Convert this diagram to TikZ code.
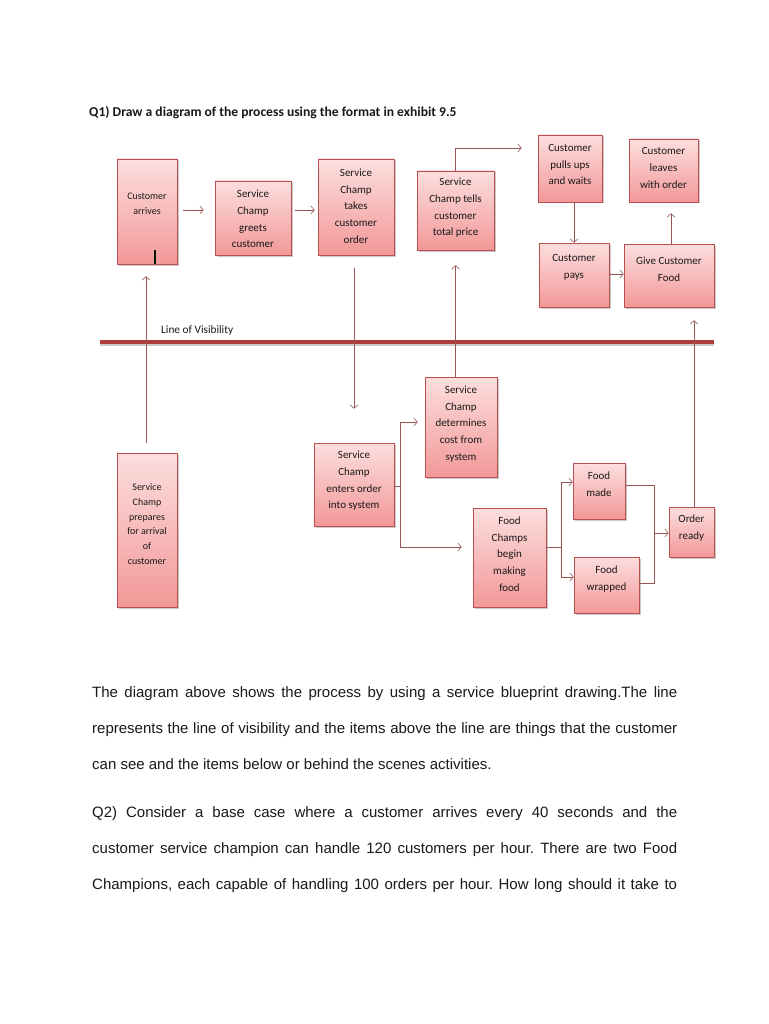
\documentclass[tikz,border=0pt]{standalone}
\usepackage{fontspec}
\setmainfont{Liberation Sans}
\newfontfamily\calfont{Carlito}
\usetikzlibrary{arrows.meta,shadows,calc}
\frenchspacing
\definecolor{boxtop}{RGB}{253,222,222}
\definecolor{boxbot}{RGB}{242,152,152}
\definecolor{boxline}{RGB}{185,80,78}
\definecolor{conncol}{RGB}{150,85,85}
\definecolor{lovcol}{RGB}{175,60,60}
\tikzset{
  pbox/.style={rectangle, draw=boxline, line width=0.6pt, top color=boxtop, bottom color=boxbot,
    drop shadow={shadow xshift=1.5pt, shadow yshift=-1.5pt, opacity=0.35, fill=black!60}, inner sep=1pt},
  bt/.style={align=center, inner sep=0pt, font=\calfont\fontsize{11}{16.7}\selectfont, text=black!90},
  bts/.style={bt, font=\calfont\fontsize{10}{14.8}\selectfont},
  tx/.style 2 args={label={[bt, yshift=#1pt]center:#2}},
  txs/.style 2 args={label={[bts, yshift=#1pt]center:#2}},
  conn/.style={draw=conncol, line width=0.6pt, -{Straight Barb[length=3.5pt,width=8pt]}},
  plain/.style={draw=conncol, line width=0.6pt},
  bodyline/.style={anchor=base west, inner sep=0pt, font=\fontsize{15}{18}\selectfont, text=black!90}
}
\begin{document}
\begin{tikzpicture}[x=1pt,y=-1pt]
\useasboundingbox (0,0) rectangle (768,1024);
% title
\node[anchor=base west, inner sep=0pt, font=\calfont\bfseries\fontsize{13.6}{16}\selectfont, text=black!90] (title) at (89,117)
  {Q1) Draw a diagram of the process using the format in exhibit 9.5};

% boxes above line
\node[pbox, minimum width=60pt, minimum height=105pt, txs={7.5}{Customer\\arrives}] (arr) at (147,211.5) {};
\node[pbox, minimum width=76pt, minimum height=74pt, tx={-1}{Service\\Champ\\greets\\customer}] (greet) at (253,218) {};
\node[pbox, minimum width=76pt, minimum height=96pt, tx={1}{Service\\Champ\\takes\\customer\\order}] (take) at (356,207) {};
\node[pbox, minimum width=77pt, minimum height=79pt, tx={2.5}{Service\\Champ tells\\customer\\total price}] (tell) at (455.5,210.5) {};
\node[pbox, minimum width=64pt, minimum height=67pt, tx={4}{Customer\\pulls ups\\and waits}] (pull) at (570,168.5) {};
\node[pbox, minimum width=69pt, minimum height=63pt, tx={2.5}{Customer\\leaves\\with order}] (leave) at (663.5,170.5) {};
\node[pbox, minimum width=70pt, minimum height=64pt, tx={7.5}{Customer\\pays}] (pay) at (574,275) {};
\node[pbox, minimum width=90pt, minimum height=63pt, tx={6.5}{Give Customer\\Food}] (give) at (669,275.5) {};

% mark inside customer arrives
\coordinate (markA) at (155,250);
\draw[line width=1.8pt, black!75!green!40!black] (markA) -- (arr.south -| markA);

% line of visibility
\coordinate (lovL) at (100,342);
\coordinate (lovR) at (714,342);
\draw[line width=3pt, black!20] ([yshift=-2pt]lovL) -- ([yshift=-2pt]lovR);
\draw[line width=3.5pt, lovcol] (lovL) -- (lovR);
\node[anchor=base west, inner sep=0pt, font=\calfont\fontsize{11.3}{13}\selectfont, text=black!90] (lovlabel) at (161,333) {Line of Visibility};

% boxes below line
\node[pbox, minimum width=60pt, minimum height=154pt, txs={6}{Service\\Champ\\prepares\\for arrival\\of\\customer}] (prep) at (147,530) {};
\node[pbox, minimum width=80pt, minimum height=83pt, tx={3.5}{Service\\Champ\\enters order\\into system}] (enter) at (354,484.5) {};
\node[pbox, minimum width=72pt, minimum height=100pt, tx={3}{Service\\Champ\\determines\\cost from\\system}] (det) at (461,427) {};
\node[pbox, minimum width=73pt, minimum height=99pt, tx={3.5}{Food\\Champs\\begin\\making\\food}] (food) at (509.5,557.5) {};
\node[pbox, minimum width=52pt, minimum height=56pt, tx={7}{Food\\made}] (made) at (599,491) {};
\node[pbox, minimum width=65pt, minimum height=56pt, tx={6}{Food\\wrapped}] (wrap) at (606.5,585) {};
\node[pbox, minimum width=45pt, minimum height=50pt, tx={4}{Order\\ready}] (ready) at (691.5,532) {};

% connectors
\draw[conn, shorten <=6pt, shorten >=11pt] (arr.east |- 0,210) -- (greet.west |- 0,210);
\draw[conn, shorten <=4pt, shorten >=3pt] (greet.east |- 0,210) -- (take.west |- 0,210);
\draw[conn, shorten <=13pt, shorten >=34pt] (take.south -| 354,0) -- (enter.north -| 354,0);
\coordinate (br1) at (400,486);
\draw[plain] (enter.east |- br1) -- (br1);
\draw[conn, shorten >=7pt] (br1) |- (det.west |- 0,422);
\draw[conn, shorten >=11pt] (br1) |- (food.west |- 0,547);
\draw[conn, shorten >=15pt] (tell.south |- det.north) -- (tell.south);
\draw[conn, shorten >=16pt] (tell.north) |- (pull.west |- 0,148);
\draw[conn] (pay.north |- pull.south) -- (pay.north);
\draw[conn] (pay.east |- 0,274) -- (give.west |- 0,274);
\draw[conn, shorten >=11pt] (give.north -| 671,0) -- (leave.south -| 671,0);
\coordinate (br2) at (561,547);
\draw[plain] (food.east |- br2) -- (br2);
\draw[conn] (br2) |- (made.west |- 0,482);
\draw[conn] (br2) |- (wrap.west |- 0,577);
\coordinate (br3) at (654,533);
\draw[plain] (made.east |- 0,485) -| (br3);
\draw[plain] (wrap.east |- 0,583) -| (br3);
\draw[conn] (br3) -- (ready.west |- br3);
\draw[conn, shorten >=13pt] (ready.north -| 694,0) -- (give.south -| 694,0);
\draw[conn, shorten <=10pt, shorten >=12pt] (prep.north -| 146,0) -- (arr.south -| 146,0);

% body text
\node[bodyline] (t1) at (92,697) {\makebox[585pt][s]{The diagram above shows the process by using a service blueprint drawing.The line}};
\node[bodyline] (t2) at (92,733) {\makebox[585pt][s]{represents the line of visibility and the items above the line are things that the customer}};
\node[bodyline] (t3) at (92,769) {can see and the items below or behind the scenes activities.};
\node[bodyline] (t4) at (92,817) {\makebox[585pt][s]{Q2) Consider a base case where a customer arrives every 40 seconds and the}};
\node[bodyline] (t5) at (92,853) {\makebox[585pt][s]{customer service champion can handle 120 customers per hour. There are two Food}};
\node[bodyline] (t6) at (92,889) {\makebox[585pt][s]{Champions, each capable of handling 100 orders per hour. How long should it take to}};
\end{tikzpicture}
\end{document}
